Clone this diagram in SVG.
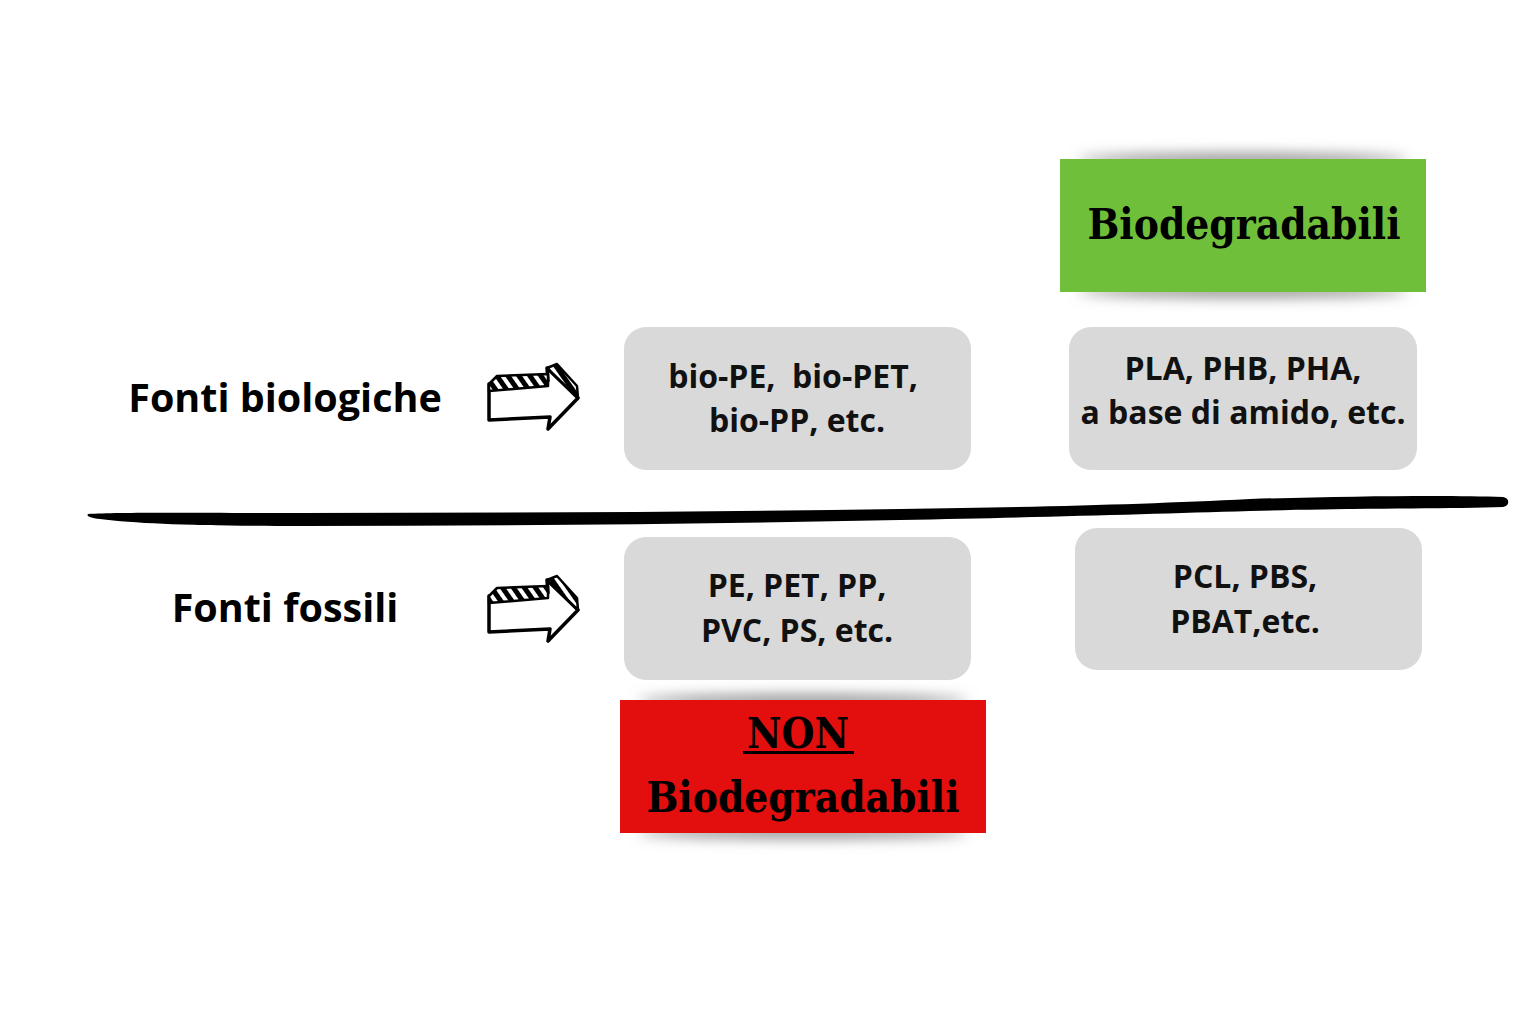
<svg xmlns="http://www.w3.org/2000/svg" width="1536" height="1024" viewBox="0 0 1536 1024">
<style>
.box{fill:#d9d9d9}
.t{font-family:"Open Sans","Noto Sans",sans-serif;font-weight:700;fill:#111;text-anchor:middle;font-size:32px}
.side{font-family:"Open Sans","Noto Sans",sans-serif;font-weight:700;fill:#000;font-size:39.5px;text-anchor:middle}
.lbl{font-family:"DejaVu Serif Condensed","DejaVu Serif","Liberation Serif",serif;font-weight:700;fill:#000;text-anchor:middle;font-size:42px}
.arr{fill:#fff;stroke:#000;stroke-width:3.5;stroke-linejoin:round}
.hat{fill:url(#hatch);stroke:#000;stroke-width:2.5;stroke-linejoin:round}
</style>
<defs>
<filter id="sh" x="-20%" y="-200%" width="140%" height="500%"><feGaussianBlur stdDeviation="7"/></filter>
<pattern id="hatch" width="9" height="9" patternUnits="userSpaceOnUse" patternTransform="rotate(-35)"><rect width="9" height="9" fill="#fff"/><rect width="5" height="9" fill="#000"/></pattern>
</defs>
<rect width="1536" height="1024" fill="#fff"/>

<g id="bio-label"><text class="side" x="285" y="412">Fonti biologiche</text></g>
<g id="fossil-label"><text class="side" x="285" y="622">Fonti fossili</text></g>

<g id="connectors">
<path d="M88 514 C120 512 200 513 300 513 C500 513 700 512 900 509 C1050 507 1150 504 1250 499 C1350 496 1450 495 1503 497 C1510 498 1510 506 1503 507 C1450 509 1350 508 1250 511 C1150 514 1050 517 900 520 C700 524 500 526 300 526 C200 526 140 524 100 519 C90 518 86 516 88 514 Z" fill="#000"/>
<g id="arrow1">
<path class="arr" d="M489 384 L548 381 L547 368 L578 398 L548 429 L550 417 L489 420 Z"/>
<path class="hat" d="M489 384 L497 376 L548 374 L548 386 L489 391 Z"/>
<path class="hat" d="M547 368 L557 364 L577 386 L578 398 Z"/>
</g>
<g id="arrow2">
<path class="arr" d="M489 596 L548 593 L547 580 L578 610 L548 641 L550 629 L489 632 Z"/>
<path class="hat" d="M489 596 L497 588 L548 586 L548 598 L489 603 Z"/>
<path class="hat" d="M547 580 L557 576 L577 598 L578 610 Z"/>
</g>
</g>

<g id="box-biobased">
<rect class="box" x="624" y="327" width="347" height="143" rx="22"/>
<text class="t" x="793" y="388" xml:space="preserve">bio-PE,  bio-PET,</text>
<text class="t" x="797" y="432">bio-PP, etc.</text>
</g>
<g id="box-bio-biodeg">
<rect class="box" x="1069" y="327" width="348" height="143" rx="22"/>
<text class="t" x="1243" y="380">PLA, PHB, PHA,</text>
<text class="t" x="1243" y="424">a base di amido, etc.</text>
</g>
<g id="box-fossil">
<rect class="box" x="624" y="537" width="347" height="143" rx="22"/>
<text class="t" x="797" y="597">PE, PET, PP,</text>
<text class="t" x="797" y="642">PVC, PS, etc.</text>
</g>
<g id="box-fossil-biodeg">
<rect class="box" x="1075" y="528" width="347" height="142" rx="22"/>
<text class="t" x="1245" y="588">PCL, PBS,</text>
<text class="t" x="1245" y="633">PBAT,etc.</text>
</g>

<g id="biodegradabili">
<ellipse cx="1243" cy="160" rx="165" ry="6" fill="#888" filter="url(#sh)"/>
<ellipse cx="1243" cy="291" rx="165" ry="6" fill="#888" filter="url(#sh)"/>
<rect x="1060" y="159" width="366" height="133" fill="#70bf3a"/>
<text class="lbl" x="1244" y="239">Biodegradabili</text>
</g>
<g id="non-biodegradabili">
<ellipse cx="803" cy="701" rx="165" ry="6" fill="#888" filter="url(#sh)"/>
<ellipse cx="803" cy="832" rx="165" ry="6" fill="#888" filter="url(#sh)"/>
<rect x="620" y="700" width="366" height="133" fill="#e30e0e"/>
<text class="lbl" x="798" y="748">NON</text>
<rect x="743" y="751" width="111" height="3" fill="#000"/>
<text class="lbl" x="803" y="812">Biodegradabili</text>
</g>
</svg>
